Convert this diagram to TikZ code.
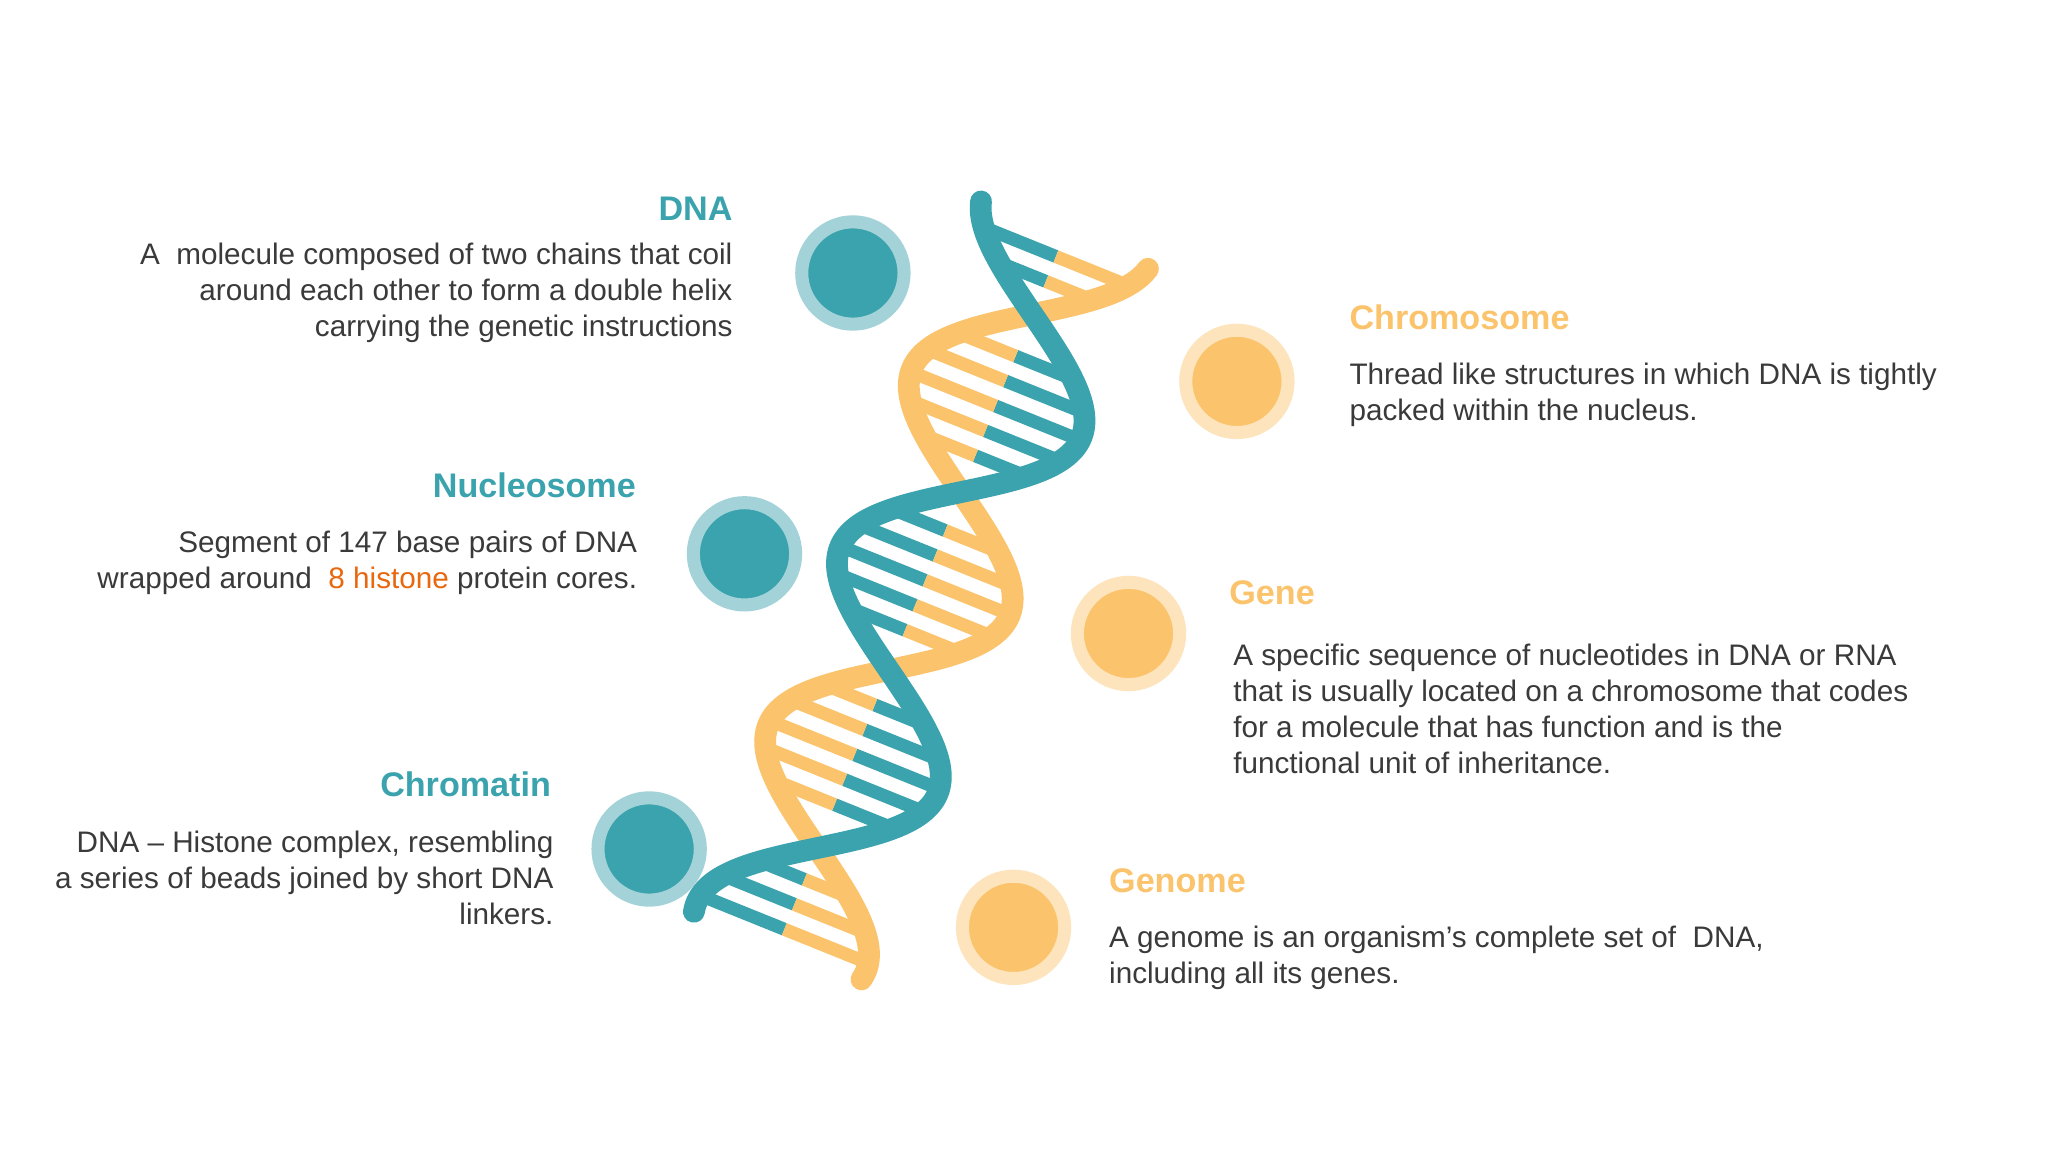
\documentclass[tikz,border=0pt]{standalone}
\usepackage{fontspec}
\setmainfont{Liberation Sans}
\definecolor{tealc}{HTML}{3AA3AD}
\definecolor{tealL}{HTML}{A3D3D8}
\definecolor{orc}{HTML}{FBC46C}
\definecolor{orL}{HTML}{FDE4BC}
\definecolor{txt}{HTML}{3A3A3A}
\definecolor{hist}{HTML}{E8680E}
\tikzset{
 body/.style={text=txt,font=\fontsize{19.4}{23.5}\selectfont,inner sep=0pt},
 ttlT/.style={text=tealc,font=\fontsize{22.3}{24}\selectfont\bfseries,inner sep=0pt},
 ttlO/.style={text=orc,font=\fontsize{22.3}{24}\selectfont\bfseries,inner sep=0pt},
 tealdot/.style={circle,fill=tealc,draw=tealL,line width=0.3cm,minimum size=2.35cm,inner sep=0pt},
 ordot/.style={circle,fill=orc,draw=orL,line width=0.3cm,minimum size=2.35cm,inner sep=0pt},
 strandT/.style={draw=tealc,line width=0.5cm,line cap=round},
 strandO/.style={draw=orc,line width=0.5cm,line cap=round},
}
\begin{document}
\begin{tikzpicture}[x=0.03cm,y=-0.03cm]
\useasboundingbox[fill=white] (0,0) rectangle (1568,882);
% rungs
\foreach \t in {0.03,0.065,...,0.98}{
  \pgfmathsetmacro\st{sin(720*\t-80)}
  \pgfmathsetmacro\ok{abs(\st)>0.4 ? 1 : 0}
  \ifnum\ok=1
   \pgfmathsetmacro\ax{815-220*\t}
   \pgfmathsetmacro\ay{180+545*\t}
   \draw[tealc,line width=0.3cm] (\ax+70*\st*0.927,\ay+70*\st*0.374) -- (\ax,\ay);
   \draw[orc,line width=0.3cm] (\ax,\ay) -- (\ax-70*\st*0.927,\ay-70*\st*0.374);
  \fi
}
\draw[strandO] plot[domain=0:1,samples=150,smooth] ({815-220*\x+70*sin(720*\x+100)*0.927},{180+545*\x+70*sin(720*\x+100)*0.374});
\draw[strandT] plot[domain=0:1,samples=150,smooth] ({815-220*\x+70*sin(720*\x-80)*0.927},{180+545*\x+70*sin(720*\x-80)*0.374});
% circles
\node[tealdot] (c1) at (653,209) {};
\node[tealdot] (c2) at (570,424) {};
\node[tealdot] (c3) at (497,650) {};
\node[ordot] (c4) at (947,292) {};
\node[ordot] (c5) at (864,485) {};
\node[ordot] (c6) at (776,710) {};
% left texts
\node[ttlT,anchor=base east] (t1) at (561,169) {DNA};
\node[body,anchor=north east,align=right] (b1) at (561,186) {A\ \ molecule composed of two chains that coil\\around each other to form a double helix\\carrying the genetic instructions};
\node[ttlT,anchor=base east] (t2) at (487,381) {Nucleosome};
\node[body,anchor=north east,align=right] (b2) at (488,406) {Segment of 147 base pairs of DNA\\wrapped around\ \ \textcolor{hist}{8 histone} protein cores.};
\node[ttlT,anchor=base east] (t3) at (422,610) {Chromatin};
\node[body,anchor=north east,align=right] (b3) at (424,636) {DNA -- Histone complex, resembling\\a series of beads joined by short DNA\\linkers.};
% right texts
\node[ttlO,anchor=base west] (t4) at (1033,252) {Chromosome};
\node[body,anchor=north west,align=left] (b4) at (1033,278) {Thread like structures in which DNA is tightly\\packed within the nucleus.};
\node[ttlO,anchor=base west] (t5) at (941,463) {Gene};
\node[body,anchor=north west,align=left] (b5) at (944,493) {A specific sequence of nucleotides in DNA or RNA\\that is usually located on a chromosome that codes\\for a molecule that has function and is the\\functional unit of inheritance.};
\node[ttlO,anchor=base west] (t6) at (849,683) {Genome};
\node[body,anchor=north west,align=left] (b6) at (849,709) {A genome is an organism’s complete set of\ \ DNA,\\including all its genes.};
\end{tikzpicture}
\end{document}
